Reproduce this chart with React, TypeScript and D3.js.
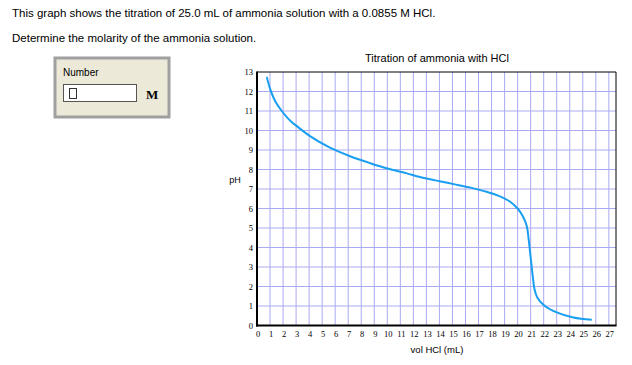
import React from "react";
import * as d3 from "d3";

const volumes = [0.75, 1.0, 1.4, 1.9, 2.55, 3.1, 4.1, 5.6, 7.15, 8.7, 10.0, 11.5, 12.5, 14.0, 15.1, 16.4, 17.5, 18.5, 19.4, 20.0, 20.4, 20.7, 20.85, 21.0, 21.15, 21.3, 21.5, 22.0, 23.0, 24.28, 25.69];
const phValues = [12.75, 12.15, 11.5, 11.0, 10.5, 10.2, 9.7, 9.12, 8.68, 8.32, 8.05, 7.8, 7.62, 7.4, 7.25, 7.07, 6.88, 6.66, 6.36, 6.0, 5.6, 5.1, 4.4, 3.5, 2.6, 1.85, 1.45, 1.05, 0.67, 0.41, 0.29];
const xTicks = d3.range(0, 28);
const yTicks = d3.range(0, 14);

const questionLines = [
  "This graph shows the titration of 25.0 mL of ammonia solution with a 0.0855 M HCl.",
  "Determine the molarity of the ammonia solution.",
];
const chartTitle = "Titration of ammonia with HCl";
const xLabel = "vol HCl (mL)";
const yLabel = "pH";

export default function App() {
  const x = d3.scaleLinear().domain([0, 27.55]).range([257, 616]);
  const y = d3.scaleLinear().domain([0, 13]).range([325.5, 72]);
  const pts: [number, number][] = volumes.map((v, i) => [v, phValues[i]]);
  const line = d3
    .line<[number, number]>()
    .x((d) => x(d[0]))
    .y((d) => y(d[1]))
    .curve(d3.curveCatmullRom.alpha(0.5));
  const sans = "'Liberation Sans', Arial, sans-serif";
  const serif = "'Liberation Serif', 'Times New Roman', serif";
  return (
    <svg
      width={632}
      height={365}
      style={{ position: "absolute", left: 0, top: 0, background: "#fff" }}
    >
      <text x={12} y={17} fontFamily={sans} fontSize={11.5} fill="#000">
        {questionLines[0]}
      </text>
      <text x={12} y={42} fontFamily={sans} fontSize={11.5} fill="#000">
        {questionLines[1]}
      </text>

      {/* answer box */}
      <rect x={55} y={58} width={114} height={59} fill="#ece9d8" stroke="#a0a0a0" strokeWidth={3} />
      <text x={63} y={76} fontFamily={sans} fontSize={10} fill="#000">Number</text>
      <rect x={63.5} y={84.5} width={73} height={17} fill="#fff" stroke="#555" strokeWidth={1} />
      <rect x={69.5} y={88.5} width={7} height={10} fill="#fff" stroke="#333" strokeWidth={1} />
      <text x={146} y={99} fontFamily={serif} fontSize={13} fontWeight="bold" fill="#000">M</text>

      {/* title */}
      <text x={437} y={62} textAnchor="middle" fontFamily={sans} fontSize={11} fill="#000">
        {chartTitle}
      </text>

      {/* grid */}
      {xTicks.filter((t) => t > 0).map((t) => (
        <line key={"gx" + t} x1={x(t)} x2={x(t)} y1={y(13)} y2={y(0)} stroke="#aaaaf2" strokeWidth={1} />
      ))}
      {yTicks.filter((t) => t > 0 && t < 13).map((t) => (
        <line key={"gy" + t} x1={x(0)} x2={x(27.55)} y1={y(t)} y2={y(t)} stroke="#aaaaf2" strokeWidth={1} />
      ))}

      {/* border */}
      <line x1={x(0)} x2={x(27.55)} y1={y(13)} y2={y(13)} stroke="#000" strokeWidth={1} />
      <line x1={x(27.55)} x2={x(27.55)} y1={y(13)} y2={y(0)} stroke="#000" strokeWidth={1} />
      <line x1={x(0)} x2={x(0)} y1={y(13) - 0.5} y2={y(0) + 1} stroke="#000" strokeWidth={2} />
      <line x1={x(0) - 1} x2={x(27.55) + 0.5} y1={y(0)} y2={y(0)} stroke="#000" strokeWidth={2} />

      {/* curve */}
      <path d={line(pts) || ""} fill="none" stroke="#1a9ef0" strokeWidth={2} />

      {/* tick labels */}
      {yTicks.map((t) => (
        <text key={"ty" + t} x={253} y={y(t) + 3} textAnchor="end" fontFamily={serif} fontSize={8.5} fill="#000">
          {t}
        </text>
      ))}
      {xTicks.map((t) => (
        <text key={"tx" + t} x={x(t) + 1} y={337} textAnchor="middle" fontFamily={serif} fontSize={8.5} fill="#000">
          {t}
        </text>
      ))}
      <text x={235} y={183} textAnchor="middle" fontFamily={sans} fontSize={9} fill="#000">{yLabel}</text>
      <text x={437} y={353} textAnchor="middle" fontFamily={sans} fontSize={9.5} fill="#000">{xLabel}</text>
    </svg>
  );
}
